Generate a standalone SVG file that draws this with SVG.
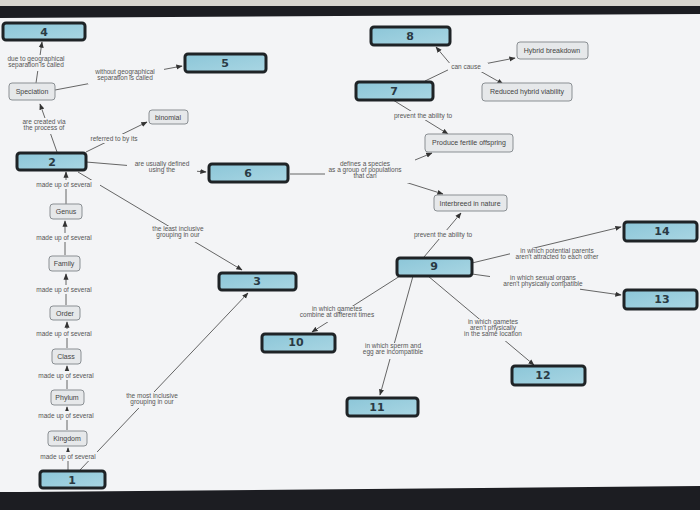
<svg xmlns="http://www.w3.org/2000/svg" width="700" height="510" viewBox="0 0 700 510">
<defs>
<marker id="a" viewBox="0 0 10 10" refX="9" refY="5" markerWidth="7" markerHeight="7" orient="auto"><path d="M0,1 L10,5 L0,9z" fill="#333"/></marker>
<linearGradient id="g" x1="0" y1="0" x2="1" y2="1"><stop offset="0" stop-color="#8cc6d8"/><stop offset="1" stop-color="#a9d6e3"/></linearGradient>
</defs>
<style>
.b rect{fill:url(#g);stroke:#1e2326;stroke-width:3}
.b text{font:bold 11px "DejaVu Sans",sans-serif;fill:#2a3a44;text-anchor:middle}
.c rect{fill:#e6e8ea;stroke:#8a8f93;stroke-width:1}
.c text{font:7px "Liberation Sans",sans-serif;fill:#444;text-anchor:middle}
.e path{fill:none;stroke:#555;stroke-width:0.9}
.e path.m{marker-end:url(#a)}
.l text{font:6.5px "Liberation Sans",sans-serif;fill:#555;text-anchor:middle}
</style>
<rect width="700" height="510" fill="#1c1d22"/>
<rect x="0" y="0" width="700" height="6" fill="#d8d6d0"/>
<path d="M0,18 L700,14 L700,486 L22,492 L0,492z" fill="#f3f4f6"/>
<g class="e">
<path class="m" d="M36,83 L42,42"/>
<path class="m" d="M55,90 L182,66"/>
<path class="m" d="M57,152 L40,104"/>
<path class="m" d="M86,152 L147,122"/>
<path class="m" d="M86,162 L206,172"/>
<path class="m" d="M78,172 L242,270"/>
<path d="M290,174 L340,174"/>
<path class="m" d="M415,160 L432,153"/>
<path class="m" d="M405,182 L443,194"/>
<path class="m" d="M66,204 L66,172"/>
<path class="m" d="M65,255 L65,221"/>
<path class="m" d="M66,305 L66,274"/>
<path class="m" d="M67,348 L67,322"/>
<path class="m" d="M67,389 L67,366"/>
<path class="m" d="M67,430 L67,407"/>
<path class="m" d="M68,470 L68,448"/>
<path class="m" d="M80,470 L248,293"/>
<path d="M425,81 L452,68"/>
<path class="m" d="M452,66 L436,47"/>
<path class="m" d="M484,64 L515,58"/>
<path class="m" d="M480,71 L503,84"/>
<path class="m" d="M393,100 L448,134"/>
<path class="m" d="M424,257 L461,213"/>
<path class="m" d="M472,263 L621,227"/>
<path class="m" d="M472,274 L621,295"/>
<path class="m" d="M400,276 L312,332"/>
<path class="m" d="M413,276 L380,395"/>
<path class="m" d="M428,276 L534,365"/>
</g>
<g class="l">
<rect x="2" y="55" width="70" height="16" fill="#f3f4f6"/>
<text x="36" y="61">due to geographical</text><text x="36" y="67">separation is called</text>
<rect x="88" y="68" width="76" height="16" fill="#f3f4f6"/>
<text x="125" y="74">without geographical</text><text x="125" y="80">separation is called</text>
<rect x="20" y="118" width="44" height="16" fill="#f3f4f6"/>
<text x="44" y="124">are created via</text><text x="44" y="130">the process of</text>
<rect x="84" y="134" width="60" height="9" fill="#f3f4f6"/>
<text x="114" y="141">referred to by its</text>
<rect x="127" y="160" width="70" height="16" fill="#f3f4f6"/>
<text x="162" y="166">are usually defined</text><text x="162" y="172">using the</text>
<rect x="325" y="161" width="90" height="22" fill="#f3f4f6"/>
<text x="365" y="166">defines a species</text><text x="365" y="172">as a group of populations</text><text x="365" y="178">that can</text>
<rect x="30" y="180" width="70" height="9" fill="#f3f4f6"/><text x="64" y="187">made up of several</text>
<rect x="30" y="233" width="70" height="9" fill="#f3f4f6"/><text x="64" y="240">made up of several</text>
<rect x="30" y="285" width="70" height="9" fill="#f3f4f6"/><text x="64" y="292">made up of several</text>
<rect x="30" y="329" width="70" height="9" fill="#f3f4f6"/><text x="64" y="336">made up of several</text>
<rect x="30" y="371" width="70" height="9" fill="#f3f4f6"/><text x="66" y="378">made up of several</text>
<rect x="30" y="411" width="70" height="9" fill="#f3f4f6"/><text x="66" y="418">made up of several</text>
<rect x="30" y="452" width="72" height="9" fill="#f3f4f6"/><text x="68" y="459">made up of several</text>
<rect x="145" y="226" width="64" height="16" fill="#f3f4f6"/>
<text x="178" y="231">the least inclusive</text><text x="178" y="237">grouping in our</text>
<rect x="116" y="392" width="70" height="16" fill="#f3f4f6"/>
<text x="152" y="398">the most inclusive</text><text x="152" y="404">grouping in our</text>
<rect x="448" y="63" width="40" height="9" fill="#f3f4f6"/><text x="466" y="69">can cause</text>
<rect x="385" y="111" width="78" height="9" fill="#f3f4f6"/><text x="423" y="118">prevent the ability to</text>
<rect x="405" y="230" width="80" height="9" fill="#f3f4f6"/><text x="443" y="237">prevent the ability to</text>
<rect x="510" y="248" width="100" height="16" fill="#f3f4f6"/>
<text x="557" y="253">in which potential parents</text><text x="557" y="259">aren't attracted to each other</text>
<rect x="490" y="275" width="90" height="16" fill="#f3f4f6"/>
<text x="543" y="280">in which sexual organs</text><text x="543" y="286">aren't physically compatible</text>
<rect x="293" y="306" width="84" height="16" fill="#f3f4f6"/>
<text x="337" y="311">in which gametes</text><text x="337" y="317">combine at different times</text>
<rect x="355" y="343" width="70" height="16" fill="#f3f4f6"/>
<text x="393" y="348">in which sperm and</text><text x="393" y="354">egg are incompatible</text>
<rect x="460" y="319" width="66" height="22" fill="#f3f4f6"/>
<text x="493" y="324">in which gametes</text><text x="493" y="330">aren't physically</text><text x="493" y="336">in the same location</text>
</g>
<g id="n4" class="b"><rect x="3" y="23" width="82" height="17" rx="3"/><text x="44" y="36">4</text></g>
<g id="n5" class="b"><rect x="185" y="54" width="81" height="18" rx="3"/><text x="225" y="67">5</text></g>
<g id="n2" class="b"><rect x="17" y="153" width="69" height="17" rx="3"/><text x="52" y="166">2</text></g>
<g id="n6" class="b"><rect x="209" y="164" width="79" height="18" rx="3"/><text x="248" y="177">6</text></g>
<g id="n3" class="b"><rect x="219" y="273" width="77" height="17" rx="3"/><text x="257" y="285">3</text></g>
<g id="n1" class="b"><rect x="40" y="471" width="65" height="17" rx="3"/><text x="72" y="484">1</text></g>
<g id="n8" class="b"><rect x="371" y="27" width="79" height="18" rx="3"/><text x="410" y="40">8</text></g>
<g id="n7" class="b"><rect x="356" y="82" width="77" height="18" rx="3"/><text x="394" y="95">7</text></g>
<g id="n9" class="b"><rect x="397" y="258" width="75" height="18" rx="3"/><text x="434" y="270">9</text></g>
<g id="n14" class="b"><rect x="624" y="222" width="73" height="19" rx="3"/><text x="662" y="235">14</text></g>
<g id="n13" class="b"><rect x="624" y="290" width="73" height="19" rx="3"/><text x="662" y="303">13</text></g>
<g id="n10" class="b"><rect x="262" y="334" width="73" height="18" rx="3"/><text x="296" y="346">10</text></g>
<g id="n12" class="b"><rect x="512" y="366" width="73" height="19" rx="3"/><text x="543" y="379">12</text></g>
<g id="n11" class="b"><rect x="347" y="398" width="71" height="18" rx="3"/><text x="377" y="411">11</text></g>
<g id="speciation" class="c"><rect x="9" y="83" width="46" height="17" rx="3"/><text x="32" y="94">Speciation</text></g>
<g id="binomial" class="c"><rect x="149" y="110" width="39" height="14" rx="3"/><text x="168" y="120">binomial</text></g>
<g id="genus" class="c"><rect x="50" y="204" width="32" height="15" rx="3"/><text x="66" y="214">Genus</text></g>
<g id="family" class="c"><rect x="49" y="256" width="31" height="15" rx="3"/><text x="64" y="266">Family</text></g>
<g id="order" class="c"><rect x="50" y="306" width="30" height="14" rx="3"/><text x="65" y="316">Order</text></g>
<g id="class" class="c"><rect x="52" y="349" width="29" height="15" rx="3"/><text x="66" y="359">Class</text></g>
<g id="phylum" class="c"><rect x="51" y="390" width="33" height="15" rx="3"/><text x="67" y="400">Phylum</text></g>
<g id="kingdom" class="c"><rect x="48" y="431" width="39" height="15" rx="3"/><text x="67" y="441">Kingdom</text></g>
<g id="hybrid" class="c"><rect x="517" y="42" width="71" height="17" rx="3"/><text x="552" y="53">Hybrid breakdown</text></g>
<g id="reduced" class="c"><rect x="482" y="83" width="90" height="18" rx="3"/><text x="527" y="94">Reduced hybrid viability</text></g>
<g id="fertile" class="c"><rect x="425" y="134" width="88" height="18" rx="3"/><text x="469" y="145">Produce fertile offspring</text></g>
<g id="interbreed" class="c"><rect x="434" y="195" width="73" height="16" rx="3"/><text x="470" y="206">Interbreed in nature</text></g>
</svg>
